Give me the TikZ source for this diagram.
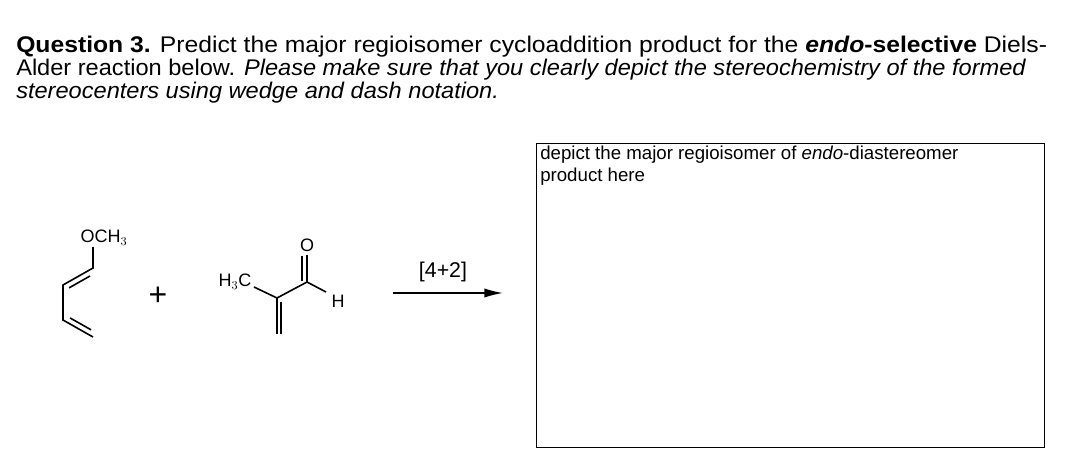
\documentclass[tikz,border=0pt]{standalone}
\usepackage{fontspec}
\setmainfont{Liberation Sans}
\newfontfamily\hdfont{Liberation Sans}[FakeStretch=1.09]
\usetikzlibrary{calc,arrows.meta}
\begin{document}
\begin{tikzpicture}[x=0.75pt,y=-0.75pt,
  txt/.style={anchor=base west,inner sep=0,font=\hdfont\fontsize{17}{20}\selectfont},
  lbl/.style={inner sep=0,font=\fontsize{13.5}{15}\selectfont},
  bond/.style={line width=1.2pt}]
\useasboundingbox (0,0) rectangle (1076,472);
\node[txt] (l1) at (16,52) {\textbf{Question 3.} Predict the major regioisomer cycloaddition product for the \textbf{\textit{endo}-selective} Diels-};
\node[txt] (l2) at (16,75) {\scalebox{0.955}[1]{Alder reaction below. \textit{Please make sure that you clearly depict the stereochemistry of the formed}}};
\node[txt] (l3) at (16,98) {\scalebox{0.955}[1]{\textit{stereocenters using wedge and dash notation.}}};
\node[draw,line width=1pt,minimum width=508*0.75pt,minimum height=304*0.75pt,anchor=north west,inner sep=0] (box) at (536,143) {};
\node[anchor=north west,align=left,inner sep=0,font=\fontsize{14}{16}\selectfont] (bt) at (540,146) {depict the major regioisomer of \textit{endo}-diastereomer\\product here};
% diene
\node[lbl] (ome) at (104,238) {OCH$_3$};
\coordinate (c1) at (93,268); \coordinate (c2) at (63,285);
\coordinate (c3) at (63,320); \coordinate (c4) at (93,337);
\coordinate (o) at (93,247);
\draw[bond] (o) -- (c1) -- (c2) -- (c3) -- (c4);
\draw[bond] ($(c1)!0.15!(c2)+(1.6,5.4)$) -- ($(c1)!0.85!(c2)+(1.6,5.4)$);
\draw[bond] ($(c3)!0.15!(c4)+(2.6,-4.6)$) -- ($(c3)!0.85!(c4)+(2.6,-4.6)$);
\node[lbl,font=\fontsize{24}{26}\selectfont] (plus) at (158,296) {+};
% dienophile
\node[lbl] (h3c) at (235,282) {H$_3$C};
\coordinate (d0) at (254,287); \coordinate (d1) at (277,298);
\coordinate (d2) at (307,282); \coordinate (d3) at (307,255);
\coordinate (dh) at (326,292); \coordinate (d4) at (277,334);
\node[lbl] (oo) at (307,245) {O};
\node[lbl] (hh) at (338,301) {H};
\draw[bond] (d0) -- (d1) -- (d2) -- (d3);
\draw[bond] (d2) -- (dh);
\draw[bond] (d1) -- (d4);
\draw[bond] (281,302) -- (281,334);
\draw[bond] (302,281) -- (302,256);
% arrow
\coordinate (a1) at (393,293); \coordinate (a2) at (503,293);
\draw[line width=1.2pt,-{Latex[length=14pt,width=7pt]}] (a1) -- (a2);
\node[lbl,font=\fontsize{16}{18}\selectfont] (cond) at (443,272) {[4+2]};
\end{tikzpicture}
\end{document}
